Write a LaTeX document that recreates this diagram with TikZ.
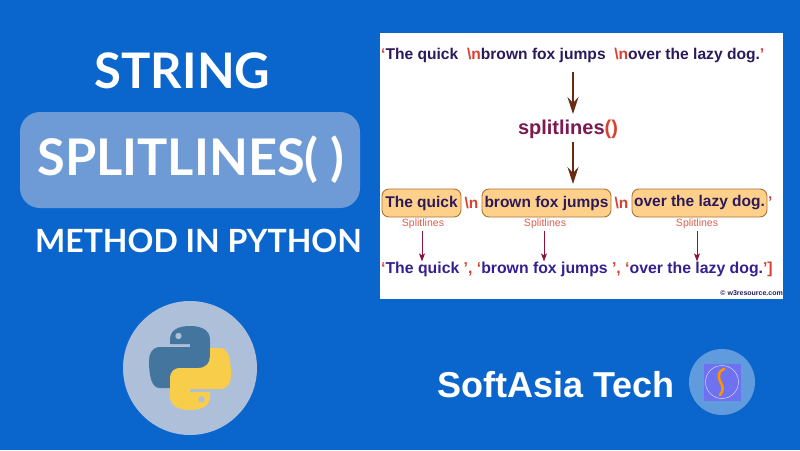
\documentclass[tikz,border=0pt]{standalone}
\usepackage{fontspec}
\setmainfont{Liberation Sans}
\newfontfamily\titlefont{Lato}
\usetikzlibrary{arrows.meta}
\definecolor{bgblue}{HTML}{0A66CC}
\definecolor{pillblue}{HTML}{6E9BD6}
\definecolor{ringgrey}{HTML}{AEBFD9}
\definecolor{ringblue}{HTML}{5F9BDD}
\definecolor{squareblue}{HTML}{6F72F0}
\definecolor{snakeblue}{HTML}{44759F}
\definecolor{snakeyellow}{HTML}{F7CD4A}
\definecolor{navytext}{HTML}{2B1A5A}
\definecolor{indigotext}{HTML}{35208F}
\definecolor{redtext}{HTML}{D8412F}
\definecolor{wine}{HTML}{7A1A50}
\definecolor{brownarrow}{HTML}{6B2A12}
\definecolor{smallarrow}{HTML}{8B1238}
\definecolor{boxfill}{HTML}{FFD08A}
\definecolor{boxedge}{HTML}{A9743A}
\newcommand{\nl}{\textcolor{redtext}{\textbackslash n}}
\newcommand{\qm}[1]{\textcolor{redtext}{#1}}
\tikzset{
  title/.style={text=white,font=\titlefont\bfseries\fontsize{#1}{#1}\selectfont,inner sep=0pt},
  line/.style={font=\bfseries\fontsize{#1}{#1}\selectfont,inner sep=0pt},
  word/.style={draw=boxedge,line width=0.9pt,fill=boxfill,rounded corners=7pt,minimum height=28pt,inner sep=0pt,
    font=\bfseries\fontsize{15.5}{15.5}\selectfont,text=navytext},
  small/.style={text=redtext!85,font=\fontsize{10.5}{10.5}\selectfont,inner sep=0pt},
  bigarrow/.style={draw=brownarrow,line width=1.5pt,-{Stealth[length=17pt,width=11pt,inset=6pt]}},
  thinarrow/.style={draw=smallarrow,line width=1pt,-{Stealth[length=8pt,width=6pt,inset=2pt]}}
}
\begin{document}
\begin{tikzpicture}[x=1pt,y=-1pt]
\useasboundingbox[fill=bgblue](0,0)rectangle(800,450);
%left titles
\node[title=49](string)at(182.5,71){STRING};
\fill[pillblue,rounded corners=20pt](20,112)rectangle(360,208);
\node[title=50.5](splitname)at(191,160){SPLITLINES( )};
\node[title=32](method)at(198.5,241){METHOD IN PYTHON};
%white panel
\fill[white](380,33)rectangle(783,299);
\node[line=15.6,text=navytext,anchor=west](src)at(381,55){\qm{‘}The quick\ \ \nl brown fox jumps\ \ \nl over the lazy dog.\qm{’}};
\node[line=20,text=wine](call)at(568,129){splitlines\qm{()}};
%boxes
\node[word,minimum width=79pt](one)at(421.5,203){The quick};
\node[word,minimum width=129pt](two)at(546.5,203){brown fox jumps};
\node[word,minimum width=135pt](three)at(699.5,203){over the lazy dog.};
\node[line=15.5,text=wine]at(471.5,203)(gapa){\nl};
\node[line=15.5,text=wine]at(621.5,203)(gapb){\nl};
\node[line=15.5,text=wine,anchor=west]at(768,202)(tail){\qm{’}};
%small labels
\node[small](laba)at(423,224){Splitlines};
\node[small](labb)at(545,224){Splitlines};
\node[small](labc)at(697,224){Splitlines};
\node[line=15.8,text=indigotext,anchor=west](res)at(381,269){\qm{‘}The quick \qm{’, ‘}brown fox jumps \qm{’, ‘}over the lazy dog.\qm{’]}};
\node[anchor=east,inner sep=0pt,text=navytext,font=\bfseries\fontsize{7}{7}\selectfont](mark)at(783,293){© w3resource.com};
%arrows
\coordinate(srcend)at(573,72);
\coordinate(callin)at(573,114);
\coordinate(callout)at(573,142);
\coordinate(boxtop)at(573,184);
\draw[bigarrow](srcend)--(callin);
\draw[bigarrow](callout)--(boxtop);
\draw[thinarrow](laba.south)++(-1,2)coordinate(a)--(a|-res.north);
\draw[thinarrow](labb.south)++(-1,2)coordinate(b)--(b|-res.north);
\draw[thinarrow](labc.south)++(0,2)coordinate(c)--(c|-res.north);
%python logo
\node[circle,fill=ringgrey,minimum size=134pt,inner sep=0pt](pyring)at(190,368){};
\fill[snakeblue](170,340)..controls(170,330)and(178,326)..(190,326)
  ..controls(203,326)and(210,331)..(210,340)--(210,358)
  ..controls(210,365)and(205,368)..(200,368)--(182,368)
  ..controls(174,368)and(170,373)..(170,380)--(170,388)--(160,388)
  ..controls(152,388)and(149,378)..(149,360)..controls(149,354)and(152,347)..(160,347)
  --(190,347)--(190,344)--(170,344)--cycle;
\fill[snakeyellow](210,396)..controls(210,406)and(202,410)..(190,410)
  ..controls(177,410)and(170,405)..(170,396)--(170,378)
  ..controls(170,371)and(175,368)..(180,368)--(198,368)
  ..controls(206,368)and(210,363)..(210,356)--(210,348)--(220,348)
  ..controls(228,348)and(231,358)..(231,376)..controls(231,382)and(228,389)..(220,389)
  --(190,389)--(190,392)--(210,392)--cycle;
\fill[ringgrey](178.5,336)circle(3.2);
\fill[ringgrey](201.5,399.5)circle(3.2);
%company
\node[anchor=west,inner sep=0pt,text=white,font=\bfseries\fontsize{36}{36}\selectfont](brand)at(437,385){SoftAsia Tech};
\node[circle,fill=ringblue,minimum size=66pt,inner sep=0pt](badge)at(722,382){};
\node[fill=squareblue,minimum size=37pt,inner sep=0pt](square)at(badge){};
\node[circle,draw=white!70!squareblue,line width=0.5pt,minimum size=33pt,inner sep=0pt](inner)at(badge){};
\draw[orange!85!yellow,line width=2.6pt,line cap=round](724,369)..controls(718,371)and(718,377)..(720,381)
  ..controls(723,386)and(724,391)..(720,395);
\end{tikzpicture}
\end{document}
